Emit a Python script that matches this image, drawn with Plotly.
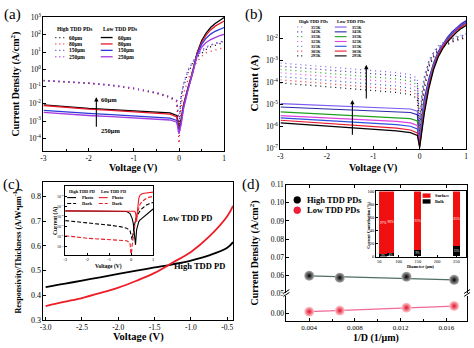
import plotly.graph_objects as go

FONT = "Liberation Serif"
W, H = 474, 348

# ---------------- Panel (a): current density vs voltage (log10 values)
V_A = [-3, -2.5, -2, -1.5, -1, -0.5, -0.2, -0.05, 0, 0.05, 0.1, 0.2, 0.3, 0.4, 0.5, 0.6, 0.7, 0.8, 0.9, 1.0]
A_SIZES = ["60μm", "80μm", "150μm", "250μm"]
A_COLORS = ["#000000", "#e8192c", "#2a3ad8", "#a43be0"]
A_LOW_LOG = [
    [-2.07, -2.18, -2.27, -2.34, -2.41, -2.47, -2.53, -2.68, -3.45, -2.85, -2.05, -1.05, -0.15, 0.95, 1.65, 2.10, 2.42, 2.65, 2.85, 3.00],
    [-2.10, -2.22, -2.31, -2.38, -2.46, -2.53, -2.60, -2.76, -3.55, -2.95, -2.10, -1.10, -0.20, 0.90, 1.55, 1.98, 2.28, 2.50, 2.66, 2.80],
    [-2.38, -2.48, -2.56, -2.63, -2.70, -2.77, -2.83, -2.97, -3.65, -3.05, -2.20, -1.15, -0.25, 0.85, 1.45, 1.80, 2.04, 2.20, 2.32, 2.42],
    [-2.50, -2.60, -2.68, -2.75, -2.82, -2.88, -2.94, -3.07, -3.75, -3.15, -2.30, -1.20, -0.30, 0.75, 1.28, 1.55, 1.72, 1.85, 1.95, 2.03],
]
A_HIGH_LOG = [
    [-0.66, -0.73, -0.81, -0.93, -1.12, -1.38, -1.62, -1.85, -3.30, -1.60, -1.00, -0.20, 0.30, 0.70, 0.95, 1.15, 1.30, 1.40, 1.48, 1.55],
    [-0.67, -0.74, -0.82, -0.95, -1.14, -1.40, -1.65, -1.90, -4.30, -2.00, -1.40, -0.60, 0.00, 0.45, 0.75, 0.95, 1.05, 1.12, 1.18, 1.25],
    [-0.65, -0.72, -0.80, -0.92, -1.10, -1.36, -1.60, -1.82, -3.20, -1.50, -0.90, -0.10, 0.40, 0.80, 1.05, 1.25, 1.40, 1.50, 1.58, 1.65],
    [-0.64, -0.71, -0.79, -0.91, -1.09, -1.35, -1.58, -1.80, -3.00, -1.40, -0.80, 0.00, 0.45, 0.85, 1.10, 1.30, 1.42, 1.50, 1.56, 1.60],
]
A_YTICKS = [-4, -3, -2, -1, 0, 1, 2, 3]

# ---------------- Panel (b): current vs voltage at several temperatures (log10 values)
V_B = V_A
B_TEMPS = ["355K", "345K", "335K", "325K", "315K", "305K", "295K"]
B_COLORS = ["#7b5cf0", "#2a2aa8", "#1fa21f", "#e040e0", "#2f4fe0", "#e8192c", "#000000"]
B_LOW_LOG = [
    [-4.96, -5.00, -5.04, -5.08, -5.12, -5.16, -5.20, -5.30, -6.55, -5.50, -4.70, -3.80, -3.10, -2.60, -2.25, -1.95, -1.70, -1.50, -1.33, -1.20],
    [-5.11, -5.15, -5.19, -5.23, -5.27, -5.31, -5.36, -5.46, -6.60, -5.60, -4.80, -3.85, -3.15, -2.62, -2.27, -1.97, -1.72, -1.52, -1.35, -1.22],
    [-5.33, -5.38, -5.43, -5.48, -5.53, -5.58, -5.64, -5.74, -6.75, -5.75, -4.95, -3.95, -3.20, -2.68, -2.32, -2.02, -1.78, -1.58, -1.42, -1.30],
    [-5.50, -5.55, -5.60, -5.65, -5.70, -5.76, -5.83, -5.94, -6.70, -5.85, -5.05, -4.00, -3.25, -2.70, -2.33, -2.03, -1.78, -1.57, -1.40, -1.27],
    [-5.60, -5.66, -5.72, -5.78, -5.84, -5.91, -5.98, -6.10, -6.80, -5.95, -5.15, -4.05, -3.28, -2.72, -2.35, -2.04, -1.79, -1.58, -1.41, -1.28],
    [-5.71, -5.78, -5.85, -5.92, -5.99, -6.07, -6.15, -6.28, -6.90, -6.10, -5.30, -4.15, -3.35, -2.78, -2.40, -2.10, -1.85, -1.65, -1.48, -1.35],
    [-5.83, -5.90, -5.97, -6.04, -6.11, -6.19, -6.27, -6.40, -6.95, -6.20, -5.40, -4.25, -3.42, -2.85, -2.46, -2.16, -1.92, -1.72, -1.55, -1.42],
]
B_HIGH_LOG = [
    [-3.12, -3.20, -3.28, -3.36, -3.45, -3.55, -3.65, -3.80, -6.20, -4.40, -3.70, -3.00, -2.60, -2.35, -2.20, -2.08, -1.98, -1.90, -1.84, -1.80],
    [-3.26, -3.34, -3.42, -3.50, -3.59, -3.69, -3.79, -3.95, -5.80, -4.50, -3.80, -3.05, -2.65, -2.40, -2.24, -2.12, -2.02, -1.94, -1.88, -1.83],
    [-3.41, -3.49, -3.57, -3.65, -3.74, -3.84, -3.94, -4.10, -5.90, -4.60, -3.90, -3.10, -2.70, -2.44, -2.28, -2.15, -2.05, -1.97, -1.91, -1.86],
    [-3.56, -3.64, -3.72, -3.80, -3.89, -3.99, -4.09, -4.25, -6.00, -4.70, -4.00, -3.15, -2.74, -2.48, -2.31, -2.18, -2.08, -2.00, -1.94, -1.89],
    [-3.73, -3.81, -3.89, -3.97, -4.06, -4.16, -4.26, -4.42, -6.10, -4.80, -4.10, -3.20, -2.78, -2.52, -2.35, -2.21, -2.11, -2.03, -1.97, -1.92],
    [-3.88, -3.96, -4.04, -4.12, -4.21, -4.31, -4.41, -4.57, -6.30, -4.90, -4.20, -3.25, -2.82, -2.55, -2.38, -2.24, -2.14, -2.06, -2.00, -1.95],
    [-4.02, -4.10, -4.18, -4.26, -4.35, -4.45, -4.55, -4.72, -6.50, -5.00, -4.30, -3.30, -2.86, -2.58, -2.41, -2.27, -2.17, -2.09, -2.03, -1.98],
]
B_YTICKS = [-7, -6, -5, -4, -3, -2]

# ---------------- Panel (c): responsivity / thickness
V_C = [-3.0, -2.75, -2.5, -2.25, -2.0, -1.75, -1.5, -1.25, -1.0, -0.75, -0.5, -0.42]
C_HIGH = [0.432, 0.445, 0.459, 0.472, 0.486, 0.499, 0.512, 0.525, 0.540, 0.561, 0.592, 0.615]
C_LOW = [0.355, 0.372, 0.388, 0.408, 0.430, 0.458, 0.490, 0.532, 0.575, 0.637, 0.720, 0.762]

# inset (c): photo / dark current (log10 A)
V_CI = [-3, -2.5, -2, -1.5, -1, -0.5, -0.2, -0.05, 0, 0.05, 0.1, 0.15, 0.2, 0.25, 0.3, 0.35, 0.4, 0.5, 0.6, 0.7, 0.8, 0.9, 1.0]
CI_HIGH_PHOTO = [-3.44, -3.44, -3.44, -3.44, -3.44, -3.45, -3.50, -3.70, -3.90, -4.20, -4.70, -5.60, -6.80, -5.30, -4.70, -4.50, -4.35, -4.15, -3.95, -3.75, -3.55, -3.38, -3.25]
CI_HIGH_DARK = [-4.40, -4.50, -4.60, -4.70, -4.85, -5.00, -5.15, -5.40, -5.90, -6.30, -5.50, -4.80, -4.30, -4.00, -3.80, -3.60, -3.45, -3.20, -3.00, -2.85, -2.75, -2.65, -2.60]
CI_LOW_PHOTO = [-3.44, -3.44, -3.44, -3.44, -3.44, -3.44, -3.44, -3.44, -3.44, -3.44, -3.45, -3.48, -3.60, -4.50, -3.20, -2.20, -1.90, -1.75, -1.70, -1.66, -1.63, -1.60, -1.58]
CI_LOW_DARK = [-5.90, -6.05, -6.15, -6.22, -6.30, -6.35, -6.40, -6.60, -8.00, -6.80, -5.80, -5.00, -4.40, -3.90, -3.50, -3.10, -2.80, -2.50, -2.30, -2.20, -2.10, -2.05, -2.00]
CI_YTICKS = [-7, -6, -5, -4, -3, -2]

# ---------------- Panel (d): current density vs 1/D
INV_D = [0.004, 0.00667, 0.0125, 0.01667]
D_HIGH = [0.0598, 0.0587, 0.0592, 0.0575]
D_HIGH_FIT = [0.0597, 0.0592, 0.0582, 0.0575]
D_LOW = [0.0008, 0.0014, 0.0030, 0.0039]
D_LOW_FIT = [0.0008, 0.0015, 0.0029, 0.0038]

# inset (d): current contribution
DIAM = [60, 80, 150, 250]
BULK = [3, 4, 9, 15]
SURFACE = [97, 96, 91, 85]


def px(x):
    return x / W


def py(y):
    return 1 - y / H


def sup(n):
    return "10<sup>%d</sup>" % n


def axstyle(**kw):
    base = dict(showline=True, linecolor="black", linewidth=1, mirror=True,
                ticks="inside", ticklen=3, tickcolor="black", tickwidth=1,
                showgrid=False, zeroline=False,
                tickfont=dict(family=FONT, size=8, color="black"))
    base.update(kw)
    return base


fig = go.Figure()

# ---- (a)
for i in range(4):
    fig.add_trace(go.Scatter(x=V_A, y=[10 ** v for v in A_HIGH_LOG[i]], mode="lines",
                             line=dict(color=A_COLORS[i], width=1.3, dash="1px,4px"),
                             xaxis="x", yaxis="y", showlegend=False))
for i in range(4):
    fig.add_trace(go.Scatter(x=V_A, y=[10 ** v for v in A_LOW_LOG[i]], mode="lines",
                             line=dict(color=A_COLORS[i], width=1.3),
                             xaxis="x", yaxis="y", showlegend=False))

# ---- (b)
for i in range(7):
    fig.add_trace(go.Scatter(x=V_B, y=[10 ** v for v in B_HIGH_LOG[i]], mode="lines",
                             line=dict(color=B_COLORS[i], width=1.2, dash="1px,4px"),
                             xaxis="x2", yaxis="y2", showlegend=False))
for i in range(7):
    fig.add_trace(go.Scatter(x=V_B, y=[10 ** v for v in B_LOW_LOG[i]], mode="lines",
                             line=dict(color=B_COLORS[i], width=1.2),
                             xaxis="x2", yaxis="y2", showlegend=False))

# ---- (c)
fig.add_trace(go.Scatter(x=V_C, y=C_HIGH, mode="lines", line=dict(color="black", width=1.8),
                         line_shape="spline", xaxis="x3", yaxis="y3", showlegend=False))
fig.add_trace(go.Scatter(x=V_C, y=C_LOW, mode="lines", line=dict(color="#ee1c25", width=1.8),
                         line_shape="spline", xaxis="x3", yaxis="y3", showlegend=False))
# inset (c)
fig.add_trace(go.Scatter(x=V_CI, y=[10 ** v for v in CI_HIGH_DARK], mode="lines",
                         line=dict(color="black", width=1.1, dash="4px,2px"),
                         xaxis="x4", yaxis="y4", showlegend=False))
fig.add_trace(go.Scatter(x=V_CI, y=[10 ** v for v in CI_LOW_DARK], mode="lines",
                         line=dict(color="#ee1c25", width=1.1, dash="4px,2px"),
                         xaxis="x4", yaxis="y4", showlegend=False))
fig.add_trace(go.Scatter(x=V_CI, y=[10 ** v for v in CI_HIGH_PHOTO], mode="lines",
                         line=dict(color="black", width=1.1),
                         xaxis="x4", yaxis="y4", showlegend=False))
fig.add_trace(go.Scatter(x=V_CI, y=[10 ** v for v in CI_LOW_PHOTO], mode="lines",
                         line=dict(color="#ee1c25", width=1.1),
                         xaxis="x4", yaxis="y4", showlegend=False))

# ---- (d)
fig.add_trace(go.Scatter(x=INV_D, y=D_LOW_FIT, mode="lines", line=dict(color="#f06a96", width=1.2),
                         xaxis="x5", yaxis="y5", showlegend=False))
fig.add_trace(go.Scatter(x=INV_D, y=D_LOW, mode="markers",
                         marker=dict(size=10, color="#ffd0d4", gradient=dict(type="radial", color="#e0102a"),
                                     line=dict(width=0)),
                         xaxis="x5", yaxis="y5", showlegend=False))
fig.add_trace(go.Scatter(x=INV_D, y=D_HIGH_FIT, mode="lines", line=dict(color="#4f6f5f", width=1.2),
                         xaxis="x6", yaxis="y6", showlegend=False))
fig.add_trace(go.Scatter(x=INV_D, y=D_HIGH, mode="markers",
                         marker=dict(size=10, color="#b0b0b0", gradient=dict(type="radial", color="#000000"),
                                     line=dict(width=0)),
                         xaxis="x6", yaxis="y6", showlegend=False))
# inset (d)
fig.add_trace(go.Bar(x=DIAM, y=BULK, marker=dict(color="black", line=dict(width=0)), width=19,
                     text=["%d%%" % b for b in BULK], textposition="inside", insidetextanchor="middle",
                     constraintext="none", textangle=0,
                     textfont=dict(family=FONT, size=3, color="white"),
                     xaxis="x7", yaxis="y7", showlegend=False))
fig.add_trace(go.Bar(x=DIAM, y=SURFACE, marker=dict(color="#f01010", line=dict(width=0)), width=19,
                     text=["%d%%" % s for s in SURFACE], textposition="inside", insidetextanchor="middle",
                     constraintext="none", textangle=0,
                     textfont=dict(family=FONT, size=3.5, color="white"),
                     xaxis="x7", yaxis="y7", showlegend=False))

small = dict(family=FONT, size=4.5, color="black")

layout = dict(
    width=W, height=H, margin=dict(l=0, r=0, t=0, b=0),
    paper_bgcolor="white", plot_bgcolor="white", barmode="stack", bargap=0,
    font=dict(family=FONT, color="black"),
    # (a)
    xaxis=axstyle(domain=[px(40), px(223)], range=[-3, 1], anchor="y",
                  tickvals=[-3, -2, -1, 0, 1], ticktext=["-3", "-2", "-1", "0", "1"],
                  minor=dict(ticks="inside", ticklen=2, tickvals=[-2.5, -1.5, -0.5, 0.5]),
                  tickfont=dict(family=FONT, size=7.5, color="black")),
    yaxis=axstyle(domain=[py(150), py(12)], type="log", range=[-4.72, 3.05], anchor="x",
                  tickvals=[10 ** t for t in A_YTICKS], ticktext=[sup(t) for t in A_YTICKS],
                  tickfont=dict(family=FONT, size=7.5, color="black")),
    # (b)
    xaxis2=axstyle(domain=[px(280), px(468)], range=[-3, 1], anchor="y2",
                   tickvals=[-3, -2, -1, 0, 1], ticktext=["-3", "-2", "-1", "0", "1"],
                   minor=dict(ticks="inside", ticklen=2, tickvals=[-2.5, -1.5, -0.5, 0.5]),
                   tickfont=dict(family=FONT, size=7.5, color="black")),
    yaxis2=axstyle(domain=[py(148), py(12)], type="log", range=[-7, -1.02], anchor="x2",
                   tickvals=[10 ** t for t in B_YTICKS], ticktext=[sup(t) for t in B_YTICKS],
                   tickfont=dict(family=FONT, size=7.5, color="black")),
    # (c) main
    xaxis3=axstyle(domain=[px(40), px(232)], range=[-3.03, -0.42], anchor="y3",
                   tickvals=[-3.0, -2.5, -2.0, -1.5, -1.0, -0.5],
                   ticktext=["-3.0", "-2.5", "-2.0", "-1.5", "-1.0", "-0.5"],
                   tickfont=dict(family=FONT, size=7.5, color="black")),
    yaxis3=axstyle(domain=[py(324), py(182)], range=[0.3, 0.86], anchor="x3",
                   tickvals=[0.3, 0.4, 0.5, 0.6, 0.7, 0.8],
                   ticktext=["0.3", "0.4", "0.5", "0.6", "0.7", "0.8"],
                   tickfont=dict(family=FONT, size=8, color="black")),
    # (c) inset
    xaxis4=axstyle(domain=[px(62), px(151)], range=[-3, 1], anchor="y4", ticklen=2,
                   tickvals=[-3, -2, -1, 0, 1], ticktext=["-3", "-2", "-1", "0", "1"],
                   tickfont=small),
    yaxis4=axstyle(domain=[py(257), py(186)], type="log", range=[-7.77, -0.94], anchor="x4", ticklen=2,
                   tickvals=[10 ** t for t in CI_YTICKS], ticktext=[sup(t) for t in CI_YTICKS],
                   tickfont=dict(family=FONT, size=4, color="black")),
    # (d) lower
    xaxis5=axstyle(domain=[px(286), px(469)], range=[0.002, 0.0178], anchor="y5", mirror=False,
                   tickvals=[0.004, 0.008, 0.012, 0.016], ticktext=["0.004", "0.008", "0.012", "0.016"],
                   minor=dict(ticks="inside", ticklen=2, tickvals=[0.006, 0.010, 0.014]),
                   tickfont=dict(family=FONT, size=7, color="black")),
    yaxis5=axstyle(domain=[py(325), py(299)], range=[-0.0041, 0.0097], anchor="x5",
                   tickvals=[0.0], ticktext=["0.00"],
                   tickfont=dict(family=FONT, size=7.5, color="black")),
    # (d) upper
    xaxis6=axstyle(domain=[px(286), px(469)], range=[0.002, 0.0178], anchor="y6", side="top",
                   mirror=False, showticklabels=False, matches="x5",
                   tickvals=[0.004, 0.008, 0.012, 0.016]),
    yaxis6=axstyle(domain=[py(297), py(185)], range=[0.05, 0.11], anchor="x6",
                   tickvals=[0.05, 0.06, 0.07, 0.08, 0.09, 0.10, 0.11],
                   ticktext=["0.05", "0.06", "0.07", "0.08", "0.09", "0.10", "0.11"],
                   tickfont=dict(family=FONT, size=7.5, color="black")),
    # (d) inset
    xaxis7=axstyle(domain=[px(377), px(468)], range=[42, 275], anchor="y7", ticklen=2,
                   tickvals=[50, 100, 150, 200, 250], tickfont=small),
    yaxis7=axstyle(domain=[py(259), py(192)], range=[0, 100], anchor="x7", ticklen=2,
                   tickvals=[0, 20, 40, 60, 80, 100], tickfont=small),
)
fig.update_layout(**layout)

ann = []
shapes = []


def text(x, y, t, size, bold=True, angle=0, anchor="center", color="black"):
    ann.append(dict(x=px(x), y=py(y), xref="paper", yref="paper", showarrow=False,
                    text=("<b>%s</b>" % t) if bold else t, textangle=angle,
                    xanchor=anchor, yanchor="middle",
                    font=dict(family=FONT, size=size, color=color)))


def key_line(x0, x1, y, color, dash="solid", width=1.3):
    shapes.append(dict(type="line", xref="paper", yref="paper", x0=px(x0), x1=px(x1), y0=py(y), y1=py(y),
                       line=dict(color=color, width=width, dash=dash)))


# panel letters
text(9, 10, "(a)", 15, bold=False)
text(253, 10, "(b)", 15, bold=False)
text(8, 185, "(c)", 15, bold=False)
text(250, 185, "(d)", 15, bold=False)

# axis titles
text(12, 81, "Current Density (A/cm<sup>2</sup>)", 10, angle=-90)
text(131, 168, "Voltage (V)", 10)
text(254, 80, "Current (A)", 11, angle=-90)
text(374, 168, "Voltage (V)", 10)
text(13, 253, "Responsivity/Thickness (A/W•μm<sup>-1</sup>)", 8.2, angle=-90)
text(136, 342, "Voltage (V)", 10.5)
text(254, 255, "Current Density (A/cm<sup>2</sup>)", 10, angle=-90)
text(377, 343, "1/D (1/μm)", 10)
# inset titles
text(52, 222, "Current (A)", 5.5, angle=-90)
text(106, 269, "Voltage (V)", 5.5)
text(369, 226, "Current Contribution (%)", 4.2, angle=-90)
text(422, 269, "Diameter (μm)", 4.3)

# legend (a)
text(52, 25, "High TDD PDs", 5.5, anchor="left")
text(98, 25, "Low TDD PDs", 5.5, anchor="left")
for i, (lab, col) in enumerate(zip(A_SIZES, A_COLORS)):
    yy = 33.5 + 6.6 * i
    key_line(52, 61, yy, col, dash="1px,3px")
    text(64, yy, lab, 5.5, anchor="left")
    key_line(98, 110, yy, col)
    text(113, yy, lab, 5.5, anchor="left")

# legend (b)
text(297, 17.5, "High TDD PDs", 4.5, anchor="left")
text(335, 17.5, "Low TDD PDs", 4.5, anchor="left")
for i, (lab, col) in enumerate(zip(B_TEMPS, B_COLORS)):
    yy = 22.7 + 4.95 * i
    key_line(297, 305, yy, col, dash="1px,3px", width=1.1)
    text(309, yy, lab, 4.2, anchor="left")
    key_line(335, 347, yy, col, width=1.1)
    text(350, yy, lab, 4.2, anchor="left")

# legend (c) inset
text(64, 192.5, "High TDD PD", 4.3, anchor="left")
text(96, 192.5, "Low TDD PD", 4.3, anchor="left")
key_line(64, 73, 198.3, "black", width=1.1)
text(76.5, 198.3, "Photo", 4.5, anchor="left")
key_line(64, 73, 204.3, "black", dash="4px,2px", width=1.1)
text(76.5, 204.3, "Dark", 4.5, anchor="left")
key_line(96, 105, 198.3, "#ee1c25", width=1.1)
text(107, 198.3, "Photo", 4.5, anchor="left")
key_line(96, 105, 204.3, "#ee1c25", dash="4px,2px", width=1.1)
text(107, 204.3, "Dark", 4.5, anchor="left")

# labels (c)
text(186, 219, "Low TDD PD", 8.5)
text(198, 269, "High TDD PD", 8.5)

# legend (d)
shapes.append(dict(type="circle", xref="paper", yref="paper", x0=px(293.5), x1=px(300.5),
                   y0=py(204.2), y1=py(197.2), fillcolor="black", line=dict(color="black", width=0.5)))
shapes.append(dict(type="circle", xref="paper", yref="paper", x0=px(293.5), x1=px(300.5),
                   y0=py(214.8), y1=py(207.8), fillcolor="#f0203a", line=dict(color="#e0102a", width=0.5)))
text(305, 200.7, "High TDD PDs", 8.5, anchor="left")
text(305, 211.3, "Low TDD PDs", 8.5, anchor="left")

# legend (d) inset
shapes.append(dict(type="rect", xref="paper", yref="paper", x0=px(424), x1=px(432), y0=py(198.5), y1=py(194),
                   fillcolor="#f01010", line=dict(width=0)))
shapes.append(dict(type="rect", xref="paper", yref="paper", x0=px(424), x1=px(432), y0=py(204.5), y1=py(200),
                   fillcolor="black", line=dict(width=0)))
text(434, 196.2, "Surface", 4.3, anchor="left")
text(434, 202.2, "Bulk", 4.3, anchor="left")

# axis-break marks on (d)
for xb in (286, 469):
    shapes.append(dict(type="rect", xref="paper", yref="paper", x0=px(xb - 3), x1=px(xb + 3),
                       y0=py(299.5), y1=py(296.5), fillcolor="white", line=dict(width=0)))
    for dy in (0, 3):
        shapes.append(dict(type="line", xref="paper", yref="paper", x0=px(xb - 3), x1=px(xb + 3),
                           y0=py(300 - dy), y1=py(296 - dy), line=dict(color="black", width=1)))

# arrows (a)
ann.append(dict(x=-1.83, y=-1.62, ax=-1.83, ay=-3.42, xref="x", yref="y", axref="x", ayref="y",
                showarrow=True, arrowhead=2, arrowsize=0.8, arrowwidth=1.1, arrowcolor="black", text=""))
text(96, 97, "60μm", 6.5, anchor="left")
text(96, 129, "250μm", 6.5, anchor="left")
# arrows (b)
ann.append(dict(x=-1.15, y=-3.2, ax=-1.15, ay=-4.79, xref="x2", yref="y2", axref="x2", ayref="y2",
                showarrow=True, arrowhead=2, arrowsize=0.8, arrowwidth=1.1, arrowcolor="black", text=""))
ann.append(dict(x=-1.45, y=-4.79, ax=-1.45, ay=-6.43, xref="x2", yref="y2", axref="x2", ayref="y2",
                showarrow=True, arrowhead=2, arrowsize=0.8, arrowwidth=1.1, arrowcolor="black", text=""))

fig.update_layout(annotations=ann, shapes=shapes)
fig.write_html("out.html")
